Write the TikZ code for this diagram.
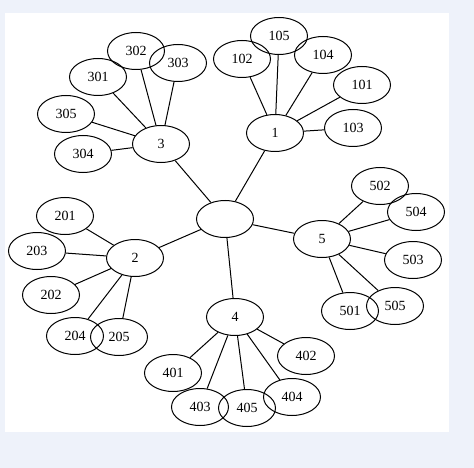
\documentclass[tikz,border=0pt]{standalone}
\usepackage{fontspec}
\setmainfont{Liberation Serif}
\usetikzlibrary{shapes.geometric}
\definecolor{pagebg}{HTML}{EEF2FA}

\begin{document}
\begin{tikzpicture}[x=1pt,y=-1pt,line width=1pt,
    every node/.style={ellipse,draw,minimum width=57pt,minimum height=37pt,inner sep=0pt,font=\fontsize{14}{16}\selectfont}]

        \fill[pagebg] (0,0) rectangle (474,468);
        \fill[white] (5,13) rectangle (449,432);
        \useasboundingbox (0,0) rectangle (474,468);

        \node (root) at (225,219) {};
        \node (1) at (275,133) {1};
        \node (2) at (135,258) {2};
        \node (3) at (161,144) {3};
        \node (4) at (235,317) {4};
        \node (5) at (322,239) {5};

        \path
        (root) edge (1)
               edge (2)
               edge (3)
               edge (4)
               edge (5)
        ;

        % group 1
        \node (102) at (242,59) {102};
        \node (105) at (279,36) {105};
        \node (104) at (323,55) {104};
        \node (101) at (362,85) {101};
        \node (103) at (353,128) {103};
        \path (1) edge (102) edge (105) edge (104) edge (101) edge (103);

        % group 3
        \node (301) at (98,77) {301};
        \node (302) at (136,51) {302};
        \node (303) at (178,63) {303};
        \node (305) at (66,114) {305};
        \node (304) at (83,154) {304};
        \path (3) edge (301) edge (302) edge (303) edge (305) edge (304);

        % group 2
        \node (201) at (65,216) {201};
        \node (203) at (37,251) {203};
        \node (202) at (51,295) {202};
        \node (204) at (75,336) {204};
        \node (205) at (119,337) {205};
        \path (2) edge (201) edge (203) edge (202) edge (204) edge (205);

        % group 5
        \node (502) at (380,186) {502};
        \node (504) at (416,212) {504};
        \node (503) at (413,260) {503};
        \node (501) at (350,311) {501};
        \node (505) at (395,306) {505};
        \path (5) edge (502) edge (504) edge (503) edge (501) edge (505);

        % group 4
        \node (401) at (173,373) {401};
        \node (403) at (200,407) {403};
        \node (405) at (247,408) {405};
        \node (404) at (292,397) {404};
        \node (402) at (306,356) {402};
        \path (4) edge (401) edge (403) edge (405) edge (404) edge (402);
\end{tikzpicture}
\end{document}
